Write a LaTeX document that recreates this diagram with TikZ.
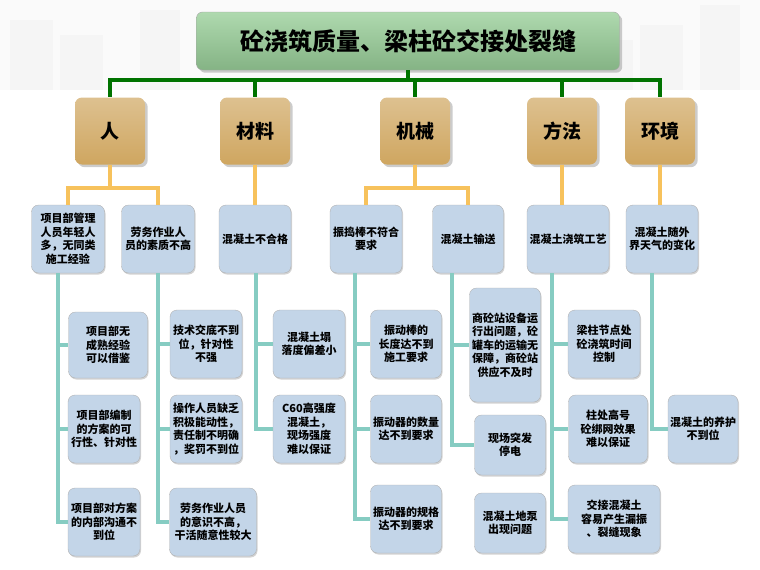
\documentclass[tikz,border=0pt]{standalone}
\usepackage{fontspec}
\setmainfont{Noto Sans CJK SC}
\usetikzlibrary{shadows}
\definecolor{tgreen}{HTML}{8CC98C}
\definecolor{tan}{HTML}{CFA660}
\definecolor{bbox}{HTML}{C3D5E8}
\definecolor{teal}{HTML}{86CCC2}
\definecolor{orng}{HTML}{F7C25C}
\tikzset{
 titlebox/.style={draw=gray!70,rounded corners=6pt,top color=tgreen!70,bottom color=tgreen!85!black!90,font=\bfseries\fontsize{24}{27}\selectfont,minimum width=423pt,minimum height=58pt,drop shadow={opacity=0.4}},
 catbox/.style={draw=none,rounded corners=7pt,top color=tan!70,bottom color=tan,font=\bfseries\fontsize{19}{22}\selectfont,minimum width=70pt,minimum height=67pt,drop shadow={opacity=0.4}},
 bx/.style={draw=gray!60,rounded corners=7pt,fill=bbox,font=\bfseries\fontsize{11}{13.5}\selectfont,align=center,inner sep=1pt,drop shadow={opacity=0.35,shadow xshift=1pt,shadow yshift=-1.5pt}},
 gline/.style={draw=green!45!black,line width=3.5pt},
 oline/.style={draw=orng,line width=3.5pt},
 spine/.style={draw=teal,line width=4pt},
}
\begin{document}
\begin{tikzpicture}[x=1pt,y=-1pt]
\useasboundingbox (0,0) rectangle (760,570);
\fill[gray!4] (0,0) rectangle (760,90);
\foreach \a/\b/\c in {10/20/85,60/35/85,140/10/80,640/25/85,700/5/80,590/40/85}{\fill[gray!8] (\a,\b) rectangle ++(\c/2,90-\b);}
\node[titlebox] (T) at (408,41) {砼浇筑质量、梁柱砼交接处裂缝};
\node[catbox] (P) at (110,131) {人};
\node[catbox] (M) at (255,131) {材料};
\node[catbox] (J) at (415,131) {机械};
\node[catbox] (F) at (562,131) {方法};
\node[catbox] (H) at (660,131) {环境};
\coordinate (gb) at (408,80);
\foreach \n in {P,M,J,F,H}{\draw[gline] (T.south) -- (gb) -| (\n.north);}
% level 2
\node[bx,minimum width=73pt,minimum height=68pt] (A1) at (68,239) {项目部管理\\人员年轻人\\多，无同类\\施工经验};
\node[bx,minimum width=73pt,minimum height=68pt] (A2) at (158,239) {劳务作业人\\员的素质不高};
\node[bx,minimum width=72pt,minimum height=68pt] (B1) at (255,239) {混凝土不合格};
\node[bx,minimum width=72pt,minimum height=68pt] (C1) at (366,239) {振捣棒不符合\\要求};
\node[bx,minimum width=71pt,minimum height=68pt] (C2) at (468,239) {混凝土输送};
\node[bx,minimum width=82pt,minimum height=68pt] (D1) at (568,239) {混凝土浇筑工艺};
\node[bx,minimum width=72pt,minimum height=68pt] (E1) at (662,239) {混凝土随外\\界天气的变化};
\coordinate (pb) at (110,188);
\coordinate (jb) at (415,188);
\draw[oline] (P.south) -- (pb) -| (A1.north);
\draw[oline] (pb) -| (A2.north);
\draw[oline] (M.south) -- (M.south |- B1.north);
\draw[oline] (J.south) -- (jb) -| (C1.north);
\draw[oline] (jb) -| (C2.north);
\draw[oline] (F.south) -- (F.south |- D1.north);
\draw[oline] (H.south) -- (H.south |- E1.north);
% level 3
\node[bx,minimum width=79pt,minimum height=66pt] (a1) at (108,345) {项目部无\\成熟经验\\可以借鉴};
\node[bx,minimum width=72pt,minimum height=68pt] (a2) at (104,429) {项目部编制\\的方案的可\\行性、针对性};
\node[bx,minimum width=72pt,minimum height=68pt] (a3) at (104,522) {项目部对方案\\的内部沟通不\\到位};
\node[bx,minimum width=72pt,minimum height=68pt] (b1) at (206,344) {技术交底不到\\位，针对性\\不强};
\node[bx,minimum width=72pt,minimum height=68pt] (b2) at (206,429) {操作人员缺乏\\积极能动性，\\责任制不明确\\，奖罚不到位};
\node[bx,minimum width=87pt,minimum height=68pt] (b3) at (213,522) {劳务作业人员\\的意识不高，\\干活随意性较大};
\node[bx,minimum width=72pt,minimum height=68pt] (c1) at (309,344) {混凝土塌\\落度偏差小};
\node[bx,minimum width=72pt,minimum height=68pt] (c2) at (309,429) {C60高强度\\混凝土，\\现场强度\\难以保证};
\node[bx,minimum width=71pt,minimum height=68pt] (d1) at (406,344) {振动棒的\\长度达不到\\施工要求};
\node[bx,minimum width=71pt,minimum height=68pt] (d2) at (406,429) {振动器的数量\\达不到要求};
\node[bx,minimum width=71pt,minimum height=68pt] (d3) at (406,519) {振动器的规格\\达不到要求};
\node[bx,minimum width=71pt,minimum height=114pt] (e1) at (505,345) {商砼站设备运\\行出问题，砼\\罐车的运输无\\保障，商砼站\\供应不及时};
\node[bx,minimum width=71pt,minimum height=60pt] (e2) at (510,445) {现场突发\\停电};
\node[bx,minimum width=71pt,minimum height=60pt] (e3) at (510,523) {混凝土地泵\\出现问题};
\node[bx,minimum width=72pt,minimum height=68pt] (f1) at (604,344) {梁柱节点处\\砼浇筑时间\\控制};
\node[bx,minimum width=79pt,minimum height=68pt] (f2) at (608,429) {柱处高号\\砼绑网效果\\难以保证};
\node[bx,minimum width=92pt,minimum height=68pt] (f3) at (614,519) {交接混凝土\\容易产生漏振\\、裂缝现象};
\node[bx,minimum width=70pt,minimum height=68pt] (g1) at (703,429) {混凝土的养护\\不到位};
\foreach \p/\c/\s in {A1/a1/-10,A1/a2/-10,A1/a3/-10,A2/b1/0,A2/b2/0,A2/b3/0,B1/c1/1,B1/c2/1,C1/d1/-11,C1/d2/-11,C1/d3/-11,C2/e1/-16,C2/e2/-16,D1/f1/-16,D1/f2/-16,D1/f3/-16,E1/g1/-10}{
 \draw[spine] ([xshift=\s pt]\p.south) |- (\c.west);}
\end{tikzpicture}
\end{document}
